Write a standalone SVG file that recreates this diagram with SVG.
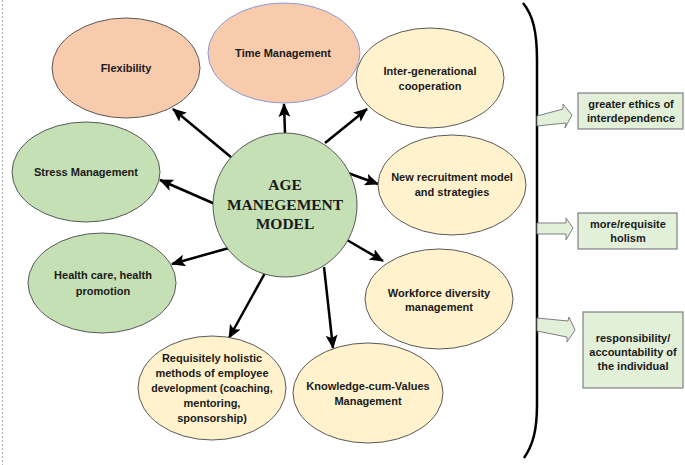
<svg xmlns="http://www.w3.org/2000/svg" width="685" height="465" viewBox="0 0 685 465">
<defs>
<marker id="ah" markerUnits="userSpaceOnUse" markerWidth="14" markerHeight="12" refX="13" refY="6" orient="auto">
<path d="M0,0 L14,6 L0,12 L3,6 z" fill="#000"/>
</marker>
<style>
.lbl{font-family:"Liberation Sans",Arial,sans-serif;font-weight:bold;font-size:11px;fill:#1a1a1a;text-anchor:middle}
.ctr{font-family:"Liberation Serif","Times New Roman",serif;font-weight:bold;font-size:15.5px;fill:#1a1a1a;text-anchor:middle}
.org{fill:#f8cbad;stroke:#595959;stroke-width:1}
.grn{fill:#c5e0b4;stroke:#595959;stroke-width:1}
.yel{fill:#fff2cc;stroke:#595959;stroke-width:1}
.box{fill:#e2f0d9;stroke:#7f7f7f;stroke-width:1.2}
.blk{fill:#e2f0d9;stroke:#7f7f7f;stroke-width:1}
.con{stroke:#000;stroke-width:2.5;fill:none;marker-end:url(#ah)}
</style>
</defs>
<rect width="685" height="465" fill="#fff"/>
<line x1="2.5" y1="0" x2="2.5" y2="465" stroke="#b0b0b0" stroke-width="1" stroke-dasharray="2,2"/>

<g id="connectors">
<line class="con" x1="232" y1="158" x2="173" y2="109"/>
<line class="con" x1="285" y1="133" x2="284" y2="104"/>
<line class="con" x1="325" y1="143" x2="367" y2="109"/>
<line class="con" x1="348" y1="173" x2="378" y2="184"/>
<line class="con" x1="347" y1="240" x2="383" y2="261"/>
<line class="con" x1="324" y1="267" x2="333" y2="348"/>
<line class="con" x1="265" y1="273" x2="229" y2="338"/>
<line class="con" x1="229" y1="248" x2="172" y2="264"/>
<line class="con" x1="215" y1="204" x2="160" y2="180"/>
</g>

<g id="flexibility">
<ellipse class="org" cx="126" cy="68" rx="74" ry="50"/>
<text class="lbl" x="126" y="72">Flexibility</text>
</g>
<g id="time-management">
<ellipse class="org" cx="284" cy="53" rx="76" ry="50" style="stroke:#8e9ad4"/>
<text class="lbl" x="283" y="57">Time Management</text>
</g>
<g id="inter-generational">
<ellipse class="yel" cx="430" cy="78" rx="74" ry="50"/>
<text class="lbl" x="430" y="75">Inter-generational</text>
<text class="lbl" x="430" y="90">cooperation</text>
</g>
<g id="new-recruitment">
<ellipse class="yel" cx="452" cy="185" rx="74" ry="50"/>
<text class="lbl" x="452" y="181">New recruitment model</text>
<text class="lbl" x="452" y="196">and strategies</text>
</g>
<g id="workforce">
<ellipse class="yel" cx="439" cy="299" rx="74" ry="50"/>
<text class="lbl" x="439" y="297">Workforce diversity</text>
<text class="lbl" x="439" y="311">management</text>
</g>
<g id="knowledge">
<ellipse class="yel" cx="368" cy="393" rx="75" ry="50"/>
<text class="lbl" x="368" y="390">Knowledge-cum-Values</text>
<text class="lbl" x="368" y="405">Management</text>
</g>
<g id="requisitely">
<ellipse class="yel" cx="212" cy="388" rx="74" ry="52"/>
<text class="lbl" x="212" y="362">Requisitely holistic</text>
<text class="lbl" x="212" y="377">methods of employee</text>
<text class="lbl" x="212" y="392" style="font-size:10.6px">development (coaching,</text>
<text class="lbl" x="212" y="407">mentoring,</text>
<text class="lbl" x="212" y="422">sponsorship)</text>
</g>
<g id="health-care">
<ellipse class="grn" cx="102" cy="283" rx="74" ry="50"/>
<text class="lbl" x="103" y="279">Health care, health</text>
<text class="lbl" x="103" y="295">promotion</text>
</g>
<g id="stress">
<ellipse class="grn" cx="86" cy="172" rx="74" ry="50"/>
<text class="lbl" x="86" y="176">Stress Management</text>
</g>
<g id="age-model">
<circle class="grn" cx="285" cy="205" r="72"/>
<text class="ctr" x="285" y="190">AGE</text>
<text class="ctr" x="285" y="210">MANEGEMENT</text>
<text class="ctr" x="285" y="229">MODEL</text>
</g>

<g id="bracket">
<path d="M523,3 C533,15 537,32 537,60 L537,405 C537,430 533,445 524,458" fill="none" stroke="#000" stroke-width="2.5"/>
</g>

<g id="block-arrows">
<polygon class="blk" points="537,116 563,109 563,104 572,115 565,128 566,123 537,126"/>
<polygon class="blk" points="537,223 566,223 566,218 573,228 566,240 566,234 537,234"/>
<polygon class="blk" points="537,318 568,321 569,317 575,330 567,342 567,337 537,331"/>
</g>

<g id="outcome-1">
<rect class="box" x="578" y="93" width="105" height="36"/>
<text class="lbl" x="631" y="108">greater ethics of</text>
<text class="lbl" x="631" y="122">interdependence</text>
</g>
<g id="outcome-2">
<rect class="box" x="578" y="213" width="99" height="36"/>
<text class="lbl" x="628" y="228">more/requisite</text>
<text class="lbl" x="628" y="242">holism</text>
</g>
<g id="outcome-3">
<rect class="box" x="583" y="312" width="100" height="76"/>
<text class="lbl" x="633" y="342">responsibility/</text>
<text class="lbl" x="633" y="356">accountability of</text>
<text class="lbl" x="633" y="370">the individual</text>
</g>
</svg>
